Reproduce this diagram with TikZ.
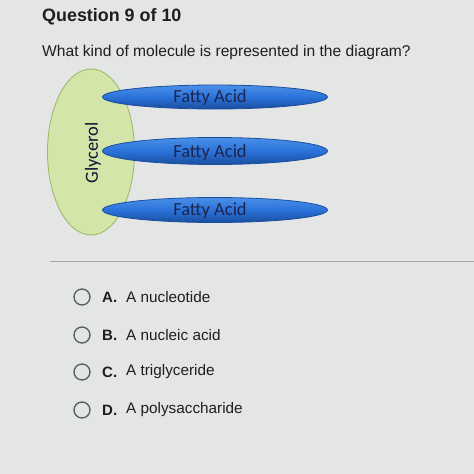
\documentclass[tikz,border=0pt]{standalone}
\usepackage{fontspec}
\setmainfont{Liberation Sans}
\newfontfamily\carl{Carlito}
\usetikzlibrary{shapes.geometric}
\definecolor{bgc}{HTML}{E3E6E5}
\definecolor{glyfill}{HTML}{D3E5A8}
\definecolor{glyedge}{HTML}{9DB565}
\definecolor{fablue}{HTML}{2A72DA}
\definecolor{fatop}{HTML}{4A90E8}
\definecolor{fadark}{HTML}{1A4E9E}
\definecolor{fatext}{HTML}{1C2550}
\definecolor{txt}{HTML}{1E1E1E}
\definecolor{ringc}{HTML}{555A5A}
\tikzset{
  fatty/.style={ellipse, draw=fadark, line width=0.8pt, top color=fatop, bottom color=fadark, middle color=fablue, minimum width=225pt, minimum height=25pt, inner sep=0pt},
  fatxt/.style={text=fatext, font=\carl\fontsize{18.5}{18.5}\selectfont},
  radio/.style={circle, draw=ringc, line width=1.3pt, minimum size=16pt, inner sep=0pt},
  opt/.style={anchor=west, text=txt, font=\fontsize{15.3}{15.3}\selectfont, inner sep=0pt},
  optl/.style={anchor=west, text=txt, font=\bfseries\fontsize{15}{15}\selectfont, inner sep=0pt}
}
\begin{document}
\begin{tikzpicture}[x=1pt,y=-1pt]
\fill[bgc] (0,0) rectangle (474,474);
\useasboundingbox (0,0) rectangle (474,474);
\node[anchor=west, inner sep=0pt, text=txt, font=\bfseries\fontsize{17.9}{17.9}\selectfont] (title) at (42,17) {Question 9 of 10};
\node[anchor=west, inner sep=0pt, text=txt, font=\fontsize{15.6}{15.6}\selectfont] (q) at (42,52) {What kind of molecule is represented in the diagram?};
\node[ellipse, draw=glyedge, fill=glyfill, line width=0.8pt, minimum width=87pt, minimum height=166pt, inner sep=0pt] (gly) at (91,152) {};
\node[rotate=90, fatxt, text=fatext!60!black] (glyt) at (93,153) {Glycerol};
\node[fatty, minimum height=24pt] (fa1) at (215,97) {};
\node[fatty, minimum height=27pt] (fa2) at (215,151) {};
\node[fatty, minimum height=25pt] (fa3) at (215,210) {};
\node[fatxt] (t1) at (210,98) {Fatty Acid};
\node[fatxt] (t2) at (210,152.5) {Fatty Acid};
\node[fatxt] (t3) at (210,211) {Fatty Acid};
\coordinate (l1) at (50,261);
\coordinate (l2) at (474,261);
\draw[gray!70, line width=0.7pt] (l1) -- (l2);
\node[radio] (ra) at (82,297) {};
\node[radio] (rb) at (82,335) {};
\node[radio] (rc) at (82,372) {};
\node[radio] (rd) at (82,410) {};
\node[optl] (la) at (102,297) {A.};
\node[optl] (lb) at (102,335) {B.};
\node[optl] (lc) at (102,372) {C.};
\node[optl] (ld) at (102,410) {D.};
\node[opt] (oa) at (126,297) {A nucleotide};
\node[opt] (ob) at (126,335) {A nucleic acid};
\node[opt] (oc) at (126,372) {A triglyceride};
\node[opt] (od) at (126,410) {A polysaccharide};
\end{tikzpicture}
\end{document}
